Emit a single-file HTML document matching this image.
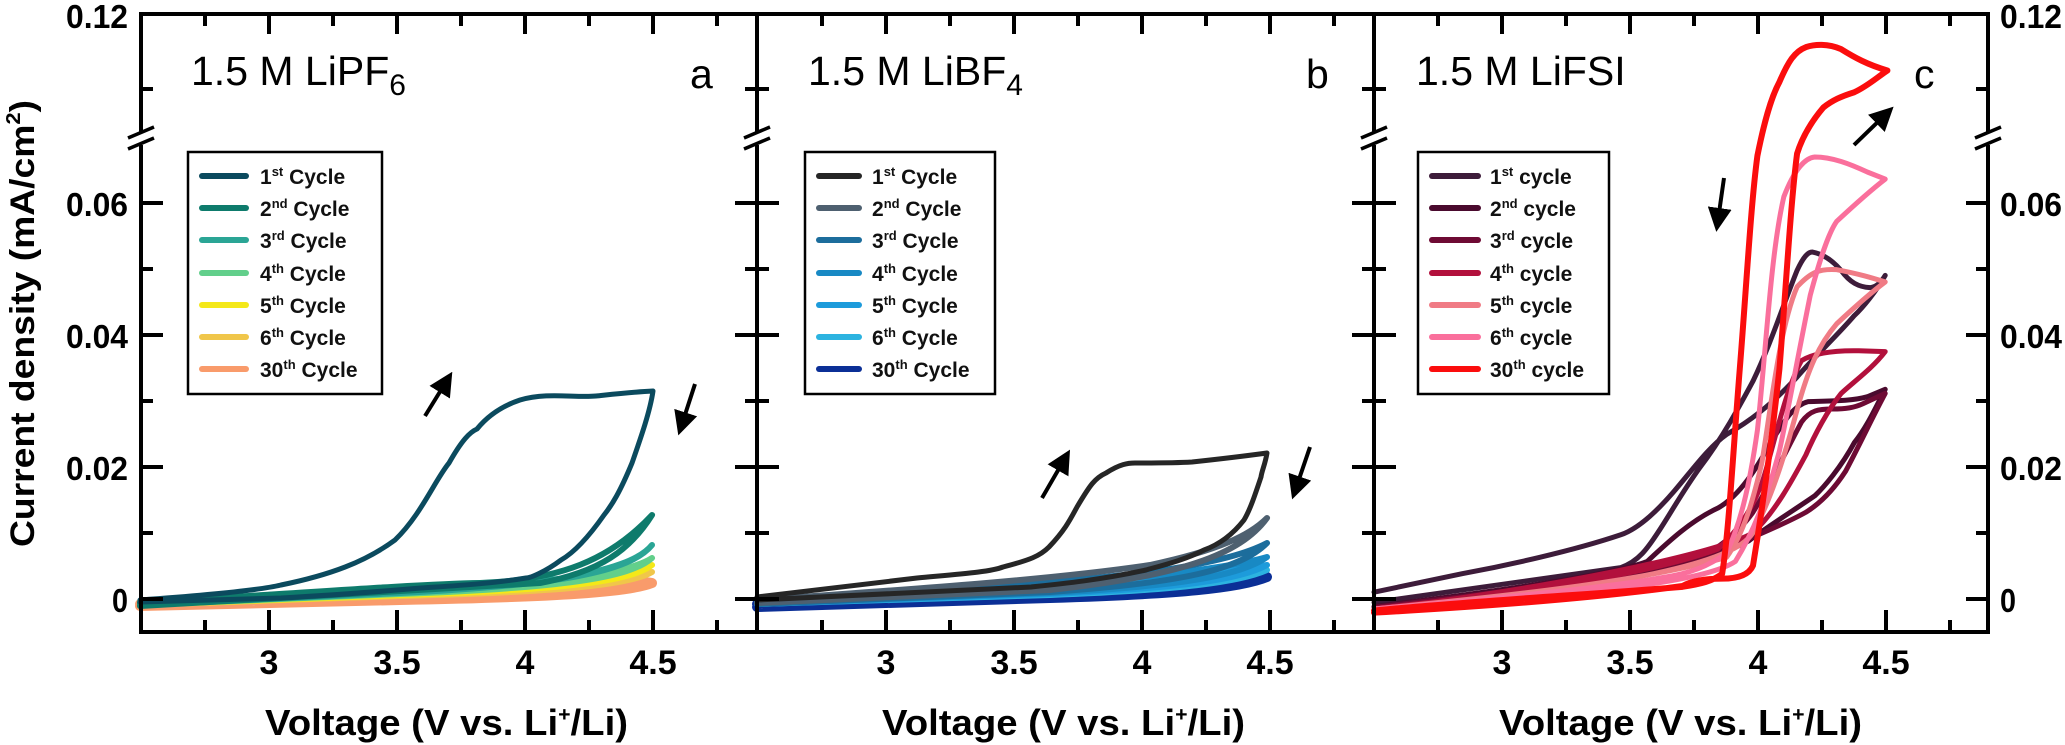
<!DOCTYPE html>
<html><head><meta charset="utf-8"><style>
html,body{margin:0;padding:0;background:#fff;}
svg{display:block;}
text{font-family:"Liberation Sans",sans-serif;}
.t{font-weight:bold;font-size:33px;}
.lg{font-weight:bold;font-size:21px;}
</style></head><body>
<svg width="2065" height="745" viewBox="0 0 2065 745" xmlns="http://www.w3.org/2000/svg">
<defs>
<marker id="ah" markerWidth="6" markerHeight="6" refX="3" refY="3" orient="auto" markerUnits="strokeWidth"><path d="M0,0 L6,3 L0,6 Z" fill="#000"/></marker>
<g id="yt" stroke="#000" stroke-width="4">
<line x1="0" y1="89" x2="12" y2="89"/><line x1="0" y1="203" x2="22" y2="203"/><line x1="0" y1="269" x2="12" y2="269"/><line x1="0" y1="335" x2="22" y2="335"/><line x1="0" y1="401" x2="12" y2="401"/><line x1="0" y1="467" x2="22" y2="467"/><line x1="0" y1="533" x2="12" y2="533"/><line x1="0" y1="599" x2="22" y2="599"/>
</g>
<g id="xt" stroke="#000" stroke-width="4">
<line x1="205" y1="14" x2="205" y2="26"/><line x1="269" y1="14" x2="269" y2="34"/><line x1="333" y1="14" x2="333" y2="26"/><line x1="397" y1="14" x2="397" y2="34"/><line x1="461" y1="14" x2="461" y2="26"/><line x1="525" y1="14" x2="525" y2="34"/><line x1="589" y1="14" x2="589" y2="26"/><line x1="653" y1="14" x2="653" y2="34"/><line x1="717" y1="14" x2="717" y2="26"/>
<line x1="205" y1="632" x2="205" y2="620"/><line x1="269" y1="632" x2="269" y2="610"/><line x1="333" y1="632" x2="333" y2="620"/><line x1="397" y1="632" x2="397" y2="610"/><line x1="461" y1="632" x2="461" y2="620"/><line x1="525" y1="632" x2="525" y2="610"/><line x1="589" y1="632" x2="589" y2="620"/><line x1="653" y1="632" x2="653" y2="610"/><line x1="717" y1="632" x2="717" y2="620"/>
</g>
</defs>
<g fill="none" stroke-linecap="round" stroke-linejoin="round">
<!-- Panel a curves -->
<path d="M140,604 C300,598 450,594 560,590 C610,585 640,580 652,583 C630,592 560,597 400,600 L140,606" stroke="#f99b6b" stroke-width="10"/>
<path d="M140,602 C300,596 450,590 560,585 C610,580 640,575 652,572 C630,585 560,592 400,596 L140,605" stroke="#f0c64a" stroke-width="6"/>
<path d="M140,602 C300,595 450,588 560,583 C610,578 640,572 652,565 C630,582 560,590 400,595 L140,605" stroke="#f4e819" stroke-width="6"/>
<path d="M140,602 C300,594 450,586 560,580 C610,574 640,566 652,558 C630,578 560,588 400,594 L140,605" stroke="#62cf8b" stroke-width="6"/>
<path d="M140,602 C300,594 450,585 560,579 C610,570 640,560 652,545 C630,572 560,585 400,593 L140,605" stroke="#2aa595" stroke-width="6"/>
<path d="M140,603 C300,593 420,584 480,583 C560,580 610,560 652,515 C630,550 600,572 540,583 C400,592 260,598 140,606" stroke="#0e7b6c" stroke-width="6"/>
<path d="M140,600 C210,595 260,590 281,585 C330,575 365,562 395,540 C421,515 435,480 449,463 C462,440 470,432 477,429 C490,413 505,405 520,400 C547,392 575,398 596,396 C615,394 632,392 653,391 C650,412 640,440 632,463 C620,492 612,505 604,515 C590,535 575,552 561,560 C545,572 530,578 526,578 C490,584 450,586 421,588 C350,594 300,597 281,598 L140,602" stroke="#0b4a5e" stroke-width="5"/>
<!-- Panel b curves -->
<path d="M757,604 C900,598 1050,592 1150,588 C1220,584 1250,580 1267,577 C1240,588 1180,594 1050,598 L757,607" stroke="#0b2f96" stroke-width="10"/>
<path d="M757,602 C900,596 1050,590 1150,582 C1220,576 1250,572 1267,570 C1240,582 1180,590 1050,595 L757,604" stroke="#2cb3e0" stroke-width="6"/>
<path d="M757,602 C900,595 1050,588 1150,580 C1220,572 1250,568 1267,565 C1240,580 1180,588 1050,594 L757,604" stroke="#1d9bdb" stroke-width="6"/>
<path d="M757,602 C900,594 1050,586 1150,576 C1220,568 1250,562 1267,557 C1240,576 1180,586 1050,593 L757,604" stroke="#1889c4" stroke-width="6"/>
<path d="M757,601 C900,593 1050,584 1150,572 C1220,562 1250,552 1267,543 C1240,570 1180,583 1050,592 L757,604" stroke="#1c6d9c" stroke-width="6"/>
<path d="M757,600 C900,590 1050,580 1150,565 C1220,550 1250,535 1267,518 C1240,555 1180,576 1050,590 L757,603" stroke="#4e6070" stroke-width="6"/>
<path d="M757,597 C830,588 880,582 917,578 C960,574 990,572 1003,567 C1030,560 1040,556 1049,547 C1065,530 1070,520 1077,507 C1090,485 1095,478 1106,473 C1120,464 1128,463 1135,463 C1160,463 1175,463 1192,462 C1220,459 1245,456 1267,453 C1265,465 1262,470 1261,477 C1255,495 1250,510 1244,520 C1230,538 1215,546 1204,550 C1185,560 1160,566 1146,570 C1100,580 1060,584 1031,587 L757,600" stroke="#262626" stroke-width="5"/>
<!-- Panel c curves (zoom coords) -->
<g transform="translate(1374,0) scale(0.4407,0.4098)">
<path vector-effect="non-scaling-stroke" stroke-width="5" stroke="#3d1c3a" d="M0,1470 C200,1440 400,1410 560,1385 C600,1370 620,1340 650,1290 C680,1240 700,1200 740,1140 C790,1070 830,990 860,930 C900,840 930,740 960,660 C975,625 985,615 995,615 C1020,620 1040,635 1060,660 C1080,690 1100,700 1125,702 C1140,700 1150,690 1160,672 C1140,710 1110,750 1090,770 C1050,820 1000,870 960,920 C900,990 850,1030 800,1060 C760,1090 720,1150 680,1200 C640,1250 600,1290 560,1305 C450,1345 300,1380 200,1400 L0,1445"/>
<path vector-effect="non-scaling-stroke" stroke-width="5" stroke="#4a0a2e" d="M0,1480 C300,1440 550,1400 620,1370 C670,1320 720,1270 780,1240 C830,1210 870,1140 900,1080 C930,1030 950,990 985,980 C1030,978 1080,980 1120,968 L1160,950 C1140,990 1120,1040 1090,1080 C1060,1140 1020,1190 1000,1210 C960,1240 900,1280 850,1320 C800,1350 700,1380 500,1420 L0,1485"/>
<path vector-effect="non-scaling-stroke" stroke-width="5" stroke="#6e0a34" d="M0,1482 C300,1445 560,1405 680,1385 C760,1360 820,1310 860,1250 C900,1180 940,1090 970,1030 C990,1000 1010,998 1040,998 C1070,998 1090,995 1110,985 L1160,960 C1130,1020 1100,1090 1070,1150 C1040,1200 1010,1230 980,1250 C930,1280 880,1300 820,1330 C700,1380 400,1440 0,1488"/>
<path vector-effect="non-scaling-stroke" stroke-width="5" stroke="#b2103c" d="M0,1485 C300,1450 600,1410 780,1340 C820,1300 850,1260 880,1180 C910,1080 930,960 970,880 C1000,860 1050,855 1100,856 L1160,858 C1130,900 1090,930 1060,960 C1030,1000 1000,1060 980,1110 C950,1170 910,1250 860,1300 C800,1340 500,1420 0,1488"/>
<path vector-effect="non-scaling-stroke" stroke-width="5" stroke="#f07b85" d="M0,1486 C300,1455 600,1420 800,1360 C840,1300 860,1220 880,1130 C900,1000 920,800 960,700 C990,665 1010,655 1050,658 C1100,668 1130,678 1160,688 C1120,720 1080,760 1050,790 C1010,840 985,900 960,1000 C930,1120 900,1220 860,1300 C820,1370 600,1430 0,1490"/>
<path vector-effect="non-scaling-stroke" stroke-width="5" stroke="#fa6f9c" d="M0,1486 C300,1458 550,1430 650,1410 C720,1400 760,1380 800,1350 C830,1280 850,1200 870,1050 C890,850 900,620 930,480 C955,410 980,385 1000,383 C1040,383 1080,400 1120,420 L1160,437 C1120,470 1080,510 1050,540 C1030,570 1010,640 990,720 C960,880 940,1000 920,1100 C890,1220 860,1300 820,1370 C750,1420 500,1450 0,1490"/>
<path vector-effect="non-scaling-stroke" stroke-width="6" stroke="#fb0d0d" d="M0,1490 C200,1468 500,1450 700,1432 C740,1425 770,1418 790,1400 C805,1300 815,1100 830,900 C845,700 855,500 870,380 C885,300 900,240 920,200 C940,150 955,125 980,115 C1000,108 1030,106 1060,120 C1090,140 1120,158 1165,172 C1140,190 1120,210 1090,225 C1060,235 1040,245 1020,262 C990,300 970,340 960,375 C945,500 935,700 920,900 C900,1100 880,1250 860,1380 C850,1405 820,1412 790,1412 C750,1412 720,1418 700,1430 C500,1460 250,1480 0,1495"/>
</g>
</g>

<!-- Arrows -->
<g stroke="#000" stroke-width="4" fill="none">
<line x1="425" y1="416" x2="446" y2="382" marker-end="url(#ah)"/>
<line x1="695" y1="384" x2="682" y2="424" marker-end="url(#ah)"/>
<line x1="1042" y1="498" x2="1064" y2="460" marker-end="url(#ah)"/>
<line x1="1310" y1="447" x2="1296" y2="488" marker-end="url(#ah)"/>
<line x1="1724" y1="178" x2="1718" y2="220" marker-end="url(#ah)"/>
<line x1="1854" y1="145" x2="1885" y2="115" marker-end="url(#ah)"/>
</g>

<!-- Frame -->
<g stroke="#000" stroke-width="4" fill="none">
<rect x="141" y="14" width="1847" height="618"/>
<line x1="757" y1="14" x2="757" y2="632"/>
<line x1="1374" y1="14" x2="1374" y2="632"/>
</g>
<!-- ticks -->
<use href="#xt"/>
<use href="#xt" transform="translate(617,0)"/>
<use href="#xt" transform="translate(1233,0)"/>
<use href="#yt" transform="translate(141,0)"/>
<use href="#yt" transform="translate(757,0)"/>
<use href="#yt" transform="translate(757,0) scale(-1,1)"/>
<use href="#yt" transform="translate(1374,0)"/>
<use href="#yt" transform="translate(1374,0) scale(-1,1)"/>
<use href="#yt" transform="translate(1988,0) scale(-1,1)"/>
<!-- breaks -->
<g>
<rect x="130" y="132" width="22" height="13" fill="#fff"/>
<rect x="746" y="132" width="22" height="13" fill="#fff"/>
<rect x="1363" y="132" width="22" height="13" fill="#fff"/>
<rect x="1977" y="132" width="22" height="13" fill="#fff"/>
<g stroke="#000" stroke-width="3.5">
<line x1="128" y1="138" x2="154" y2="127"/><line x1="128" y1="149" x2="154" y2="138"/>
<line x1="744" y1="138" x2="770" y2="127"/><line x1="744" y1="149" x2="770" y2="138"/>
<line x1="1361" y1="138" x2="1387" y2="127"/><line x1="1361" y1="149" x2="1387" y2="138"/>
<line x1="1975" y1="138" x2="2001" y2="127"/><line x1="1975" y1="149" x2="2001" y2="138"/>
</g>
</g>

<!-- Tick labels -->
<g class="t" fill="#000">
<text x="128" y="28" text-anchor="end" textLength="62" lengthAdjust="spacingAndGlyphs">0.12</text>
<text x="128" y="216" text-anchor="end" textLength="62" lengthAdjust="spacingAndGlyphs">0.06</text>
<text x="128" y="348" text-anchor="end" textLength="62" lengthAdjust="spacingAndGlyphs">0.04</text>
<text x="128" y="480" text-anchor="end" textLength="62" lengthAdjust="spacingAndGlyphs">0.02</text>
<text x="128" y="612" text-anchor="end" textLength="16" lengthAdjust="spacingAndGlyphs">0</text>
<text x="2000" y="28" textLength="62" lengthAdjust="spacingAndGlyphs">0.12</text>
<text x="2000" y="216" textLength="62" lengthAdjust="spacingAndGlyphs">0.06</text>
<text x="2000" y="348" textLength="62" lengthAdjust="spacingAndGlyphs">0.04</text>
<text x="2000" y="480" textLength="62" lengthAdjust="spacingAndGlyphs">0.02</text>
<text x="2000" y="612" textLength="16" lengthAdjust="spacingAndGlyphs">0</text>
</g>
<g class="t" fill="#000" text-anchor="middle" style="font-size:34px">
<text x="269" y="674">3</text><text x="397" y="674">3.5</text><text x="525" y="674">4</text><text x="653" y="674">4.5</text>
<text x="886" y="674">3</text><text x="1014" y="674">3.5</text><text x="1142" y="674">4</text><text x="1270" y="674">4.5</text>
<text x="1502" y="674">3</text><text x="1630" y="674">3.5</text><text x="1758" y="674">4</text><text x="1886" y="674">4.5</text>
</g>
<!-- Axis titles -->
<g font-weight="bold" font-size="36" fill="#000">
<text x="265" y="735" textLength="363" lengthAdjust="spacingAndGlyphs">Voltage (V  vs. Li<tspan font-size="20" dy="-14">+</tspan><tspan dy="14">/Li)</tspan></text>
<text x="882" y="735" textLength="363" lengthAdjust="spacingAndGlyphs">Voltage (V  vs. Li<tspan font-size="20" dy="-14">+</tspan><tspan dy="14">/Li)</tspan></text>
<text x="1499" y="735" textLength="363" lengthAdjust="spacingAndGlyphs">Voltage (V  vs. Li<tspan font-size="20" dy="-14">+</tspan><tspan dy="14">/Li)</tspan></text>
<text transform="translate(34,547) rotate(-90)" font-size="34" textLength="447" lengthAdjust="spacingAndGlyphs">Current density (mA/cm<tspan font-size="20" dy="-14">2</tspan><tspan dy="14">)</tspan></text>
</g>
<!-- Panel titles -->
<g font-size="41" fill="#000">
<text x="191" y="85">1.5 M LiPF<tspan font-size="30" dy="10">6</tspan></text>
<text x="808" y="85">1.5 M LiBF<tspan font-size="30" dy="10">4</tspan></text>
<text x="1416" y="85">1.5 M LiFSI</text>
<text x="690" y="88">a</text>
<text x="1306" y="88">b</text>
<text x="1914" y="88">c</text>
</g>

<!-- Legends -->
<g stroke="#000" stroke-width="2.5" fill="#fff">
<rect x="188" y="152" width="194" height="242"/>
<rect x="805" y="152" width="190" height="242"/>
<rect x="1418" y="152" width="191" height="242"/>
</g>
<g stroke-width="6" stroke-linecap="round">
<line x1="202" y1="176" x2="246" y2="176" stroke="#0b4a5e"/>
<line x1="202" y1="208" x2="246" y2="208" stroke="#0e7b6c"/>
<line x1="202" y1="240" x2="246" y2="240" stroke="#2aa595"/>
<line x1="202" y1="273" x2="246" y2="273" stroke="#62cf8b"/>
<line x1="202" y1="305" x2="246" y2="305" stroke="#f4e819"/>
<line x1="202" y1="337" x2="246" y2="337" stroke="#f0c64a"/>
<line x1="202" y1="369" x2="246" y2="369" stroke="#f99b6b"/>
<line x1="819" y1="176" x2="859" y2="176" stroke="#262626"/>
<line x1="819" y1="208" x2="859" y2="208" stroke="#4e6070"/>
<line x1="819" y1="240" x2="859" y2="240" stroke="#1c6d9c"/>
<line x1="819" y1="273" x2="859" y2="273" stroke="#1889c4"/>
<line x1="819" y1="305" x2="859" y2="305" stroke="#1d9bdb"/>
<line x1="819" y1="337" x2="859" y2="337" stroke="#2cb3e0"/>
<line x1="819" y1="369" x2="859" y2="369" stroke="#0b2f96"/>
<line x1="1432" y1="176" x2="1478" y2="176" stroke="#3d1c3a"/>
<line x1="1432" y1="208" x2="1478" y2="208" stroke="#4a0a2e"/>
<line x1="1432" y1="240" x2="1478" y2="240" stroke="#6e0a34"/>
<line x1="1432" y1="273" x2="1478" y2="273" stroke="#b2103c"/>
<line x1="1432" y1="305" x2="1478" y2="305" stroke="#f07b85"/>
<line x1="1432" y1="337" x2="1478" y2="337" stroke="#fa6f9c"/>
<line x1="1432" y1="369" x2="1478" y2="369" stroke="#fb0d0d"/>
</g>
<g class="lg" fill="#111">
<text x="260" y="184">1<tspan font-size="13" dy="-8">st</tspan><tspan dy="8"> Cycle</tspan></text>
<text x="260" y="216">2<tspan font-size="13" dy="-8">nd</tspan><tspan dy="8"> Cycle</tspan></text>
<text x="260" y="248">3<tspan font-size="13" dy="-8">rd</tspan><tspan dy="8"> Cycle</tspan></text>
<text x="260" y="281">4<tspan font-size="13" dy="-8">th</tspan><tspan dy="8"> Cycle</tspan></text>
<text x="260" y="313">5<tspan font-size="13" dy="-8">th</tspan><tspan dy="8"> Cycle</tspan></text>
<text x="260" y="345">6<tspan font-size="13" dy="-8">th</tspan><tspan dy="8"> Cycle</tspan></text>
<text x="260" y="377">30<tspan font-size="13" dy="-8">th</tspan><tspan dy="8"> Cycle</tspan></text>
<text x="872" y="184">1<tspan font-size="13" dy="-8">st</tspan><tspan dy="8"> Cycle</tspan></text>
<text x="872" y="216">2<tspan font-size="13" dy="-8">nd</tspan><tspan dy="8"> Cycle</tspan></text>
<text x="872" y="248">3<tspan font-size="13" dy="-8">rd</tspan><tspan dy="8"> Cycle</tspan></text>
<text x="872" y="281">4<tspan font-size="13" dy="-8">th</tspan><tspan dy="8"> Cycle</tspan></text>
<text x="872" y="313">5<tspan font-size="13" dy="-8">th</tspan><tspan dy="8"> Cycle</tspan></text>
<text x="872" y="345">6<tspan font-size="13" dy="-8">th</tspan><tspan dy="8"> Cycle</tspan></text>
<text x="872" y="377">30<tspan font-size="13" dy="-8">th</tspan><tspan dy="8"> Cycle</tspan></text>
<text x="1490" y="184">1<tspan font-size="13" dy="-8">st</tspan><tspan dy="8"> cycle</tspan></text>
<text x="1490" y="216">2<tspan font-size="13" dy="-8">nd</tspan><tspan dy="8"> cycle</tspan></text>
<text x="1490" y="248">3<tspan font-size="13" dy="-8">rd</tspan><tspan dy="8"> cycle</tspan></text>
<text x="1490" y="281">4<tspan font-size="13" dy="-8">th</tspan><tspan dy="8"> cycle</tspan></text>
<text x="1490" y="313">5<tspan font-size="13" dy="-8">th</tspan><tspan dy="8"> cycle</tspan></text>
<text x="1490" y="345">6<tspan font-size="13" dy="-8">th</tspan><tspan dy="8"> cycle</tspan></text>
<text x="1490" y="377">30<tspan font-size="13" dy="-8">th</tspan><tspan dy="8"> cycle</tspan></text>
</g>
</svg>
</body></html>
